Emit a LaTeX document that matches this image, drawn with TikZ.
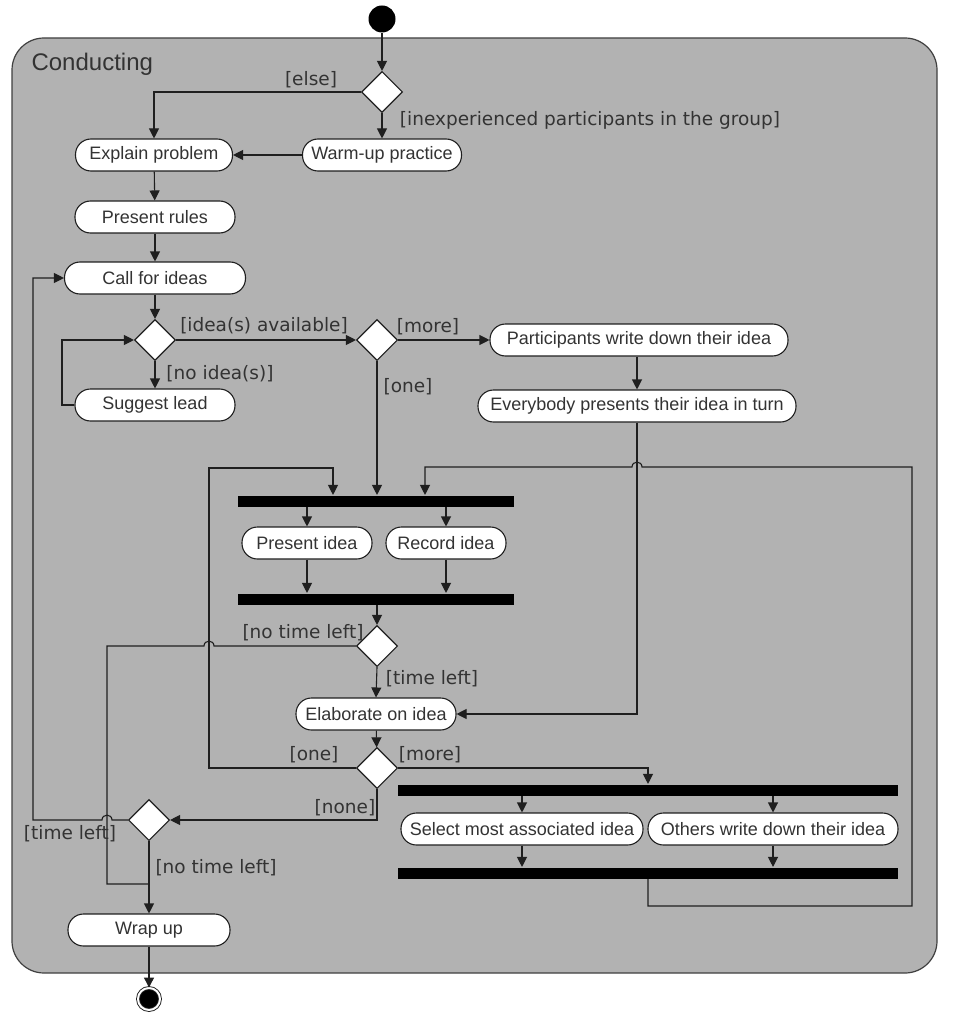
\documentclass[tikz,border=0pt]{standalone}
\usepackage{fontspec}
\setmainfont{Liberation Sans}
\newfontfamily\guardfont{DejaVu Sans}
\usetikzlibrary{shapes.geometric,arrows.meta}
\definecolor{panel}{gray}{0.70}
\definecolor{ink}{gray}{0.12}
\definecolor{txt}{gray}{0.2}
\begin{document}
\begin{tikzpicture}[x=1pt,y=-1pt,
  line width=1.1pt,
  flow/.style={draw=ink, line width=1.1pt, -{Triangle[length=10pt,width=10pt]}},
  wire/.style={draw=ink, line width=1.1pt},
  act/.style={draw=ink, fill=white, rounded corners=15.5pt, minimum height=32pt, inner sep=0pt, font=\fontsize{18}{20}\selectfont, text=txt},
  dec/.style={draw=ink, fill=white, diamond, minimum width=41pt, minimum height=41pt, inner sep=0pt, aspect=1},
  bar/.style={fill=black, draw=none, minimum height=11pt, inner sep=0pt},
  guard/.style={font=\guardfont\fontsize{18.5}{20}\selectfont, text=txt, inner sep=0pt},
]
\useasboundingbox (0,0) rectangle (954,1024);
% container
\draw[draw=ink!85, fill=panel, rounded corners=32pt, line width=1.2pt] (12,38) rectangle (937,973);
\node[anchor=west, font=\fontsize{24}{26}\selectfont, text=txt, inner sep=0pt] (title) at (31,64) {Conducting};

% nodes
\node[circle, fill=black, minimum size=27pt, inner sep=0pt] (start) at (382,19) {};
\node[dec] (d1) at (382,92) {};
\node[act, minimum width=157pt] (explain) at (154,155) {Explain problem};
\node[act, minimum width=159pt] (warm) at (382,155) {Warm-up practice};
\node[act, minimum width=160pt] (rules) at (155,217) {Present rules};
\node[act, minimum width=181pt] (call) at (155,278) {Call for ideas};
\node[dec] (d2) at (155,340) {};
\node[act, minimum width=160pt] (suggest) at (155,405) {Suggest lead};
\node[dec] (d3) at (377,340) {};
\node[act, minimum width=298pt] (part) at (639,340) {Participants write down their idea};
\node[act, minimum width=318pt] (every) at (637,406) {Everybody presents their idea in turn};
\node[bar, minimum width=276pt] (bar1) at (376,501) {};
\node[act, minimum width=130pt] (pres) at (307,543) {Present idea};
\node[act, minimum width=120pt] (rec) at (446,543) {Record idea};
\node[bar, minimum width=276pt] (bar2) at (376,599) {};
\node[dec] (d4) at (377,646) {};
\node[act, minimum width=160pt] (elab) at (376,714) {Elaborate on idea};
\node[dec] (d5) at (377,768) {};
\node[bar, minimum width=500pt] (bar3) at (648,790) {};
\node[act, minimum width=242pt] (sel) at (522,829) {Select most associated idea};
\node[act, minimum width=250pt] (oth) at (773,829) {Others write down their idea};
\node[bar, minimum width=500pt] (bar4) at (648,873) {};
\node[dec] (d6) at (149,820) {};
\node[act, minimum width=162pt] (wrap) at (149,930) {Wrap up};
\node[circle, fill=black, draw=ink, double=white, double distance=2pt, line width=0.9pt, minimum size=22pt, inner sep=0pt] (stop) at (149,999) {};

\coordinate (j1) at (149,884);
\coordinate (L1) at (333,468);
\coordinate (R1) at (425,467);

% connectors
\draw[flow] (start) -- (d1);
\draw[flow] (d1.west) -| (explain.north);
\node[guard] at (311,80) {[else]};
\draw[flow] (d1.south) -- (warm.north);
\node[guard] at (590,120) {[inexperienced participants in the group]};
\draw[flow] (warm.west) -- (explain.east);
\draw[flow] (explain) -- (rules);
\draw[flow] (rules) -- (call);
\draw[flow] (call) -- (d2);
\draw[flow] (d2) -- (suggest);
\node[guard] at (220,374) {[no idea(s)]};
\draw[flow] (suggest.west) -- (62,405) |- (d2.west);
\draw[flow] (d2.east) -- (d3.west);
\node[guard] at (264,326) {[idea(s) available]};
\draw[flow] (d3.east) -- (part.west);
\node[guard] at (428,327) {[more]};
\draw[flow] (part.south -| every) -- (every.north);
\draw[flow] (d3.south) -- (d3.south |- bar1.north);
\node[guard] at (408,387) {[one]};
\draw[flow] (bar1.south -| pres) -- (pres.north);
\draw[flow] (bar1.south -| rec) -- (rec.north);
\draw[flow] (pres.south) -- (pres.south |- bar2.north);
\draw[flow] (rec.south) -- (rec.south |- bar2.north);
\draw[flow] (bar2.south -| d4) -- (d4.north);
\draw[wire] (d4.west) -- (214,646) .. controls (214,639.5) and (204,639.5) .. (204,646) -- (107,646) -- (107,884) -- (j1);
\node[guard] at (303,633) {[no time left]};
\draw[flow] (d4.south) -- (elab.north);
\node[guard] at (432,679) {[time left]};
\draw[flow] (every.south) |- (elab.east);
\draw[flow] (elab) -- (d5);
\draw[flow] (d5.west) -- (209,768) -- (209,468) -- (L1) -- (L1 |- bar1.north);
\node[guard] at (314,755) {[one]};
\draw[flow] (d5.east) -| (bar3.north);
\node[guard] at (430,755) {[more]};
\draw[flow] (bar3.south -| sel) -- (sel.north);
\draw[flow] (bar3.south -| oth) -- (oth.north);
\draw[flow] (sel.south) -- (sel.south |- bar4.north);
\draw[flow] (oth.south) -- (oth.south |- bar4.north);
\draw[flow] (bar4.south) -- (648,906) -- (912,906) -- (912,467) -- (642,467) .. controls (642,460.5) and (632,460.5) .. (632,467) -- (R1) -- (R1 |- bar1.north);
\draw[flow] (d5.south) |- (d6.east);
\node[guard] at (345,808) {[none]};
\draw[flow] (d6.west) -- (112,820) .. controls (112,813.5) and (102,813.5) .. (102,820) -- (33,820) |- (call.west);
\node[guard] at (70,834) {[time left]};
\draw[flow] (d6.south) -- (wrap.north);
\node[guard] at (216,868) {[no time left]};
\draw[flow] (wrap) -- (stop);
\end{tikzpicture}
\end{document}
